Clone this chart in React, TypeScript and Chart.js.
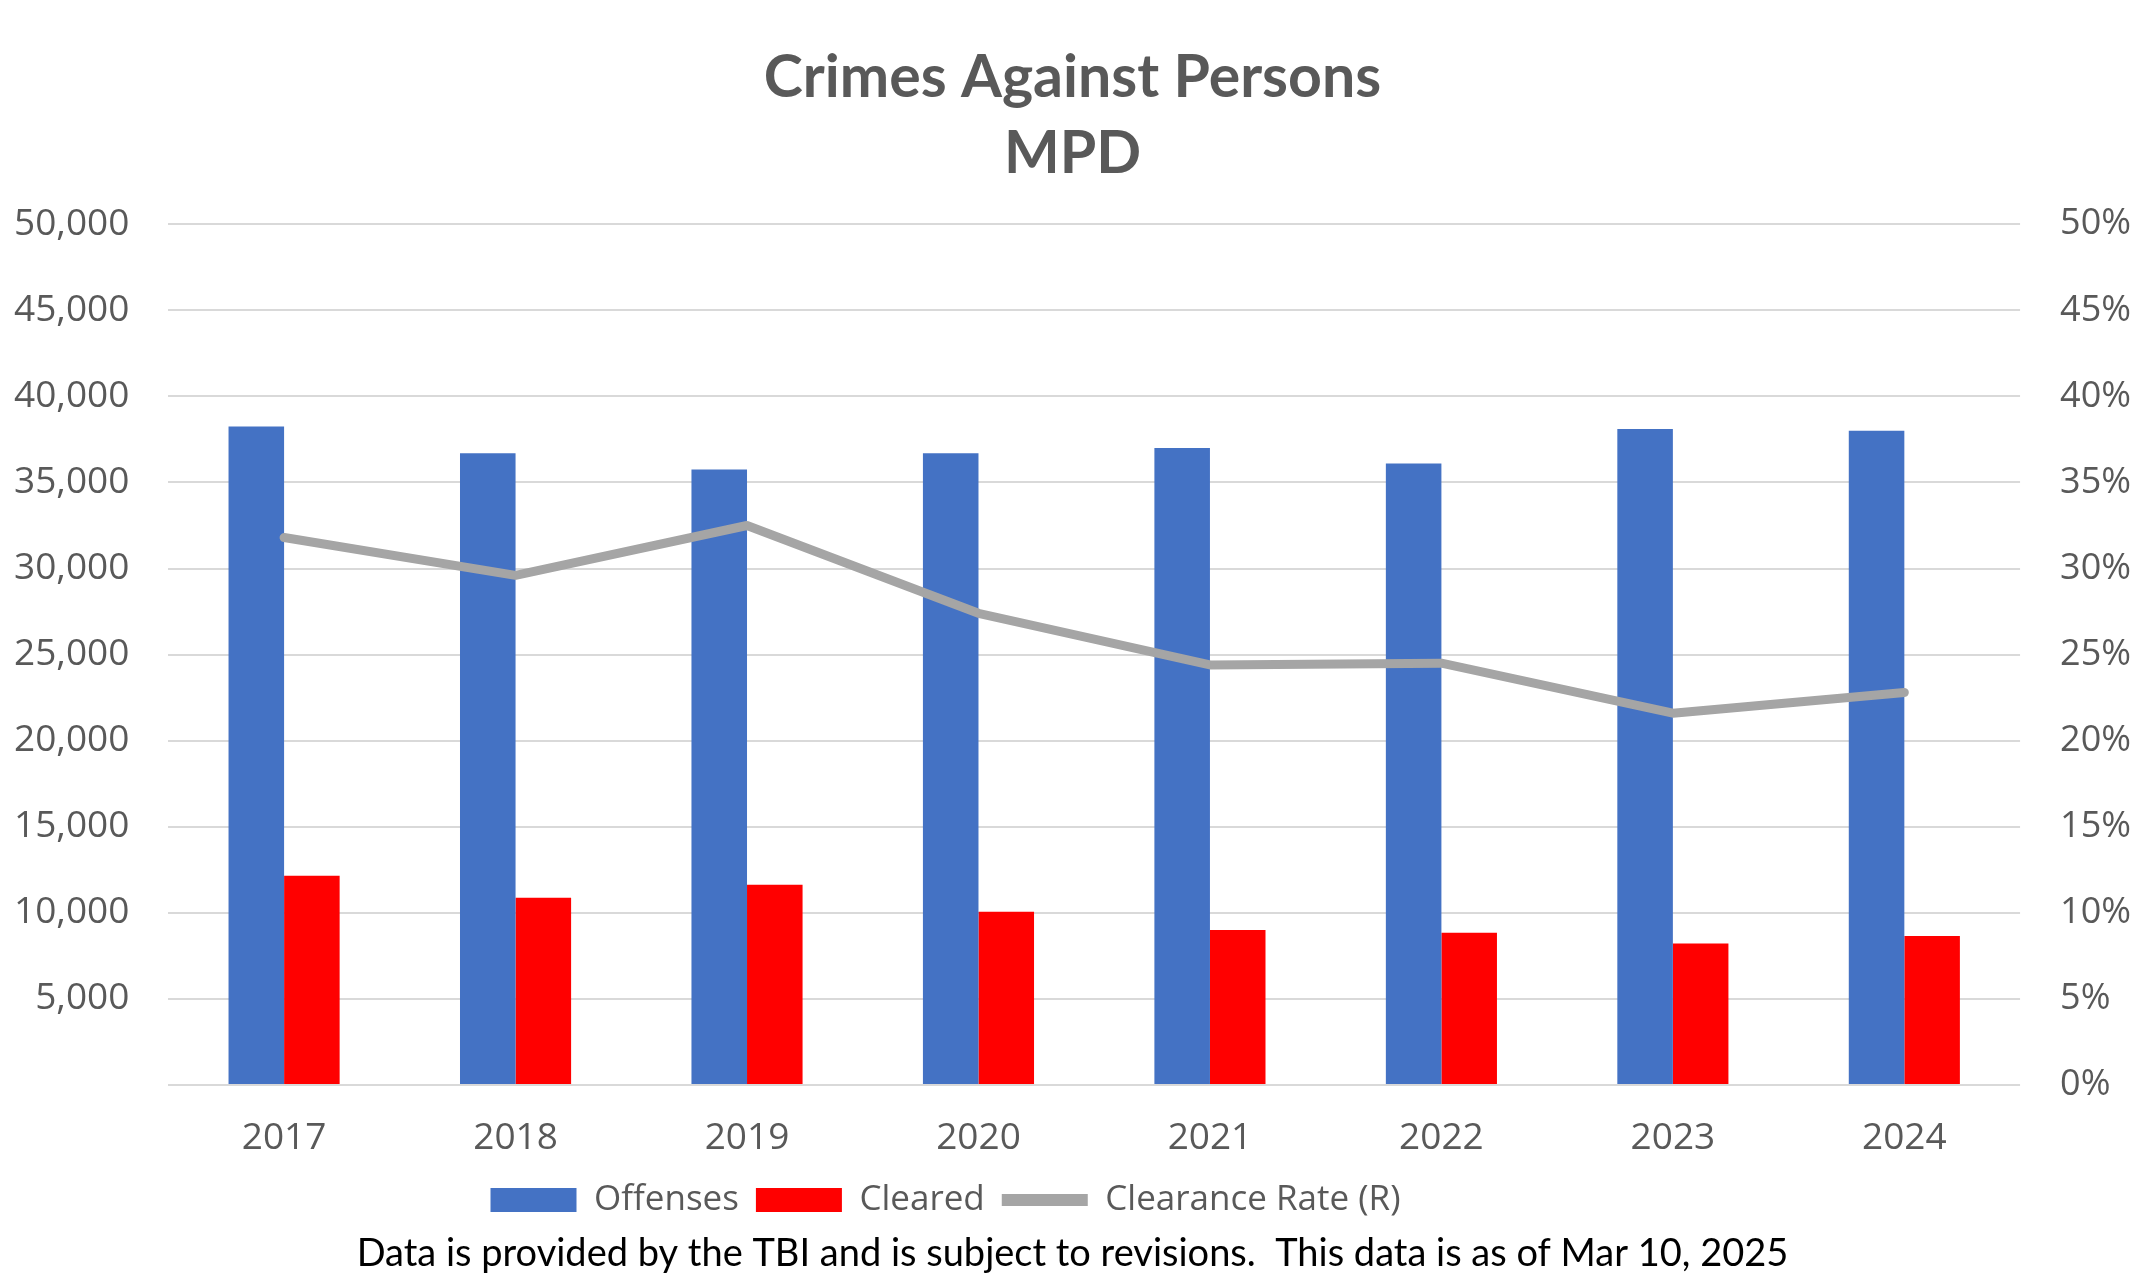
import { useEffect, useRef } from "react";
import Chart from "chart.js/auto";

const years = ["2017", "2018", "2019", "2020", "2021", "2022", "2023", "2024"];
const offenses = [38250, 36700, 35750, 36700, 37000, 36100, 38100, 38000];
const cleared = [12150, 10870, 11630, 10060, 9010, 8840, 8220, 8660];
const clearanceRate = [0.318, 0.296, 0.325, 0.274, 0.244, 0.245, 0.216, 0.228];

const titleLines = ["Crimes Against Persons", "MPD"];
const footnote = "Data is provided by the TBI and is subject to revisions.  This data is as of Mar 10, 2025";

const TEXT = "#595959";
const GRID = "#D9D9D9";

const Y_PAD = 39;
const Y1_PAD = 40;
const X_PAD = 18;
const LEGEND_SHIFT = -127;

// Chart.js reserves tick padding on both sides of an axis; drop the outer half.
const trimWidth = (pad: number) => (scale: any) => {
  scale.width -= pad;
};
const trimHeight = (pad: number) => (scale: any) => {
  scale.height -= pad;
};

const legendOffset = {
  id: "legendOffset",
  afterLayout(chart: any) {
    const l = chart.legend;
    if (!l) return;
    l.left += LEGEND_SHIFT;
    l.right += LEGEND_SHIFT;
  },
};

export default function App() {
  const ref = useRef<HTMLCanvasElement | null>(null);
  const chartRef = useRef<Chart | null>(null);

  useEffect(() => {
    document.body.style.margin = "0";
    let cancelled = false;

    const build = () => {
      if (cancelled || !ref.current) return;
      const ctx = ref.current.getContext("2d");
      if (!ctx) return;

      chartRef.current = new Chart(ctx, {
        type: "bar",
        data: {
          labels: years,
          datasets: [
            {
              label: "Offenses",
              data: offenses,
              backgroundColor: "#4472C4",
              categoryPercentage: 0.48,
              barPercentage: 1.0,
              pointStyle: "rect",
              order: 1,
              yAxisID: "y",
            },
            {
              label: "Cleared",
              data: cleared,
              backgroundColor: "#FF0000",
              categoryPercentage: 0.48,
              barPercentage: 1.0,
              pointStyle: "rect",
              order: 1,
              yAxisID: "y",
            },
            {
              type: "line",
              label: "Clearance Rate (R)",
              data: clearanceRate,
              borderColor: "#A5A5A5",
              backgroundColor: "#A5A5A5",
              borderWidth: 9,
              borderCapStyle: "round",
              borderJoinStyle: "round",
              pointRadius: 0,
              pointStyle: "line",
              tension: 0,
              order: 0,
              yAxisID: "y1",
            },
          ] as any,
        },
        plugins: [legendOffset],
        options: {
          responsive: true,
          maintainAspectRatio: false,
          animation: false,
          layout: { padding: { left: 14, right: 8, top: 0, bottom: 5 } },
          plugins: {
            title: {
              display: true,
              text: titleLines,
              color: TEXT,
              font: { family: "Lato", size: 59, weight: "bold", lineHeight: 1.29 },
              padding: { top: 40, bottom: 32 },
            },
            subtitle: {
              display: true,
              position: "bottom",
              text: footnote,
              color: "#000000",
              font: { family: "Lato", size: 38, lineHeight: 1.2 },
              padding: { top: 4, bottom: 0 },
            },
            legend: {
              position: "bottom",
              labels: {
                usePointStyle: true,
                pointStyleWidth: 86,
                boxHeight: 24,
                color: TEXT,
                font: { family: "Open Sans", size: 35 },
                padding: 17,
                sort: (a: any, b: any) => a.datasetIndex - b.datasetIndex,
                generateLabels: (chart: any) =>
                  Chart.defaults.plugins.legend.labels
                    .generateLabels(chart)
                    .map((l: any) => (l.datasetIndex === 2 ? { ...l, lineWidth: 12 } : l)),
              },
            },
            tooltip: { enabled: false },
          },
          scales: {
            x: {
              grid: { display: false },
              border: { display: false },
              afterFit: trimHeight(X_PAD),
              ticks: {
                color: TEXT,
                font: { family: "Open Sans", size: 37, lineHeight: 1.47 },
                padding: X_PAD,
              },
            },
            y: {
              position: "left",
              min: 0,
              max: 50000,
              grid: { color: GRID, lineWidth: 2, drawTicks: false },
              border: { display: false },
              afterFit: trimWidth(Y_PAD),
              ticks: {
                stepSize: 5000,
                color: TEXT,
                font: { family: "Open Sans", size: 37 },
                padding: Y_PAD,
                callback: (v: any) => (v === 0 ? "" : Number(v).toLocaleString("en-US")),
              },
            },
            y1: {
              position: "right",
              min: 0,
              max: 0.5,
              grid: { drawOnChartArea: false, drawTicks: false },
              border: { display: false },
              afterFit: trimWidth(Y1_PAD),
              ticks: {
                stepSize: 0.05,
                color: TEXT,
                font: { family: "Open Sans", size: 36 },
                padding: Y1_PAD,
                callback: (v: any) => Math.round(Number(v) * 100) + "%",
              },
            },
          },
        },
      });
    };

    const fonts = (document as any).fonts;
    if (fonts && fonts.load) {
      Promise.all([
        fonts.load('37px "Open Sans"'),
        fonts.load('bold 59px "Lato"'),
        fonts.load('38px "Lato"'),
      ])
        .catch(() => null)
        .then(build);
    } else {
      build();
    }

    return () => {
      cancelled = true;
      if (chartRef.current) {
        chartRef.current.destroy();
        chartRef.current = null;
      }
    };
  }, []);

  return (
    <div style={{ width: 2139, height: 1282, position: "relative", background: "#ffffff" }}>
      <canvas ref={ref} aria-label="Crimes Against Persons MPD chart" />
    </div>
  );
}
